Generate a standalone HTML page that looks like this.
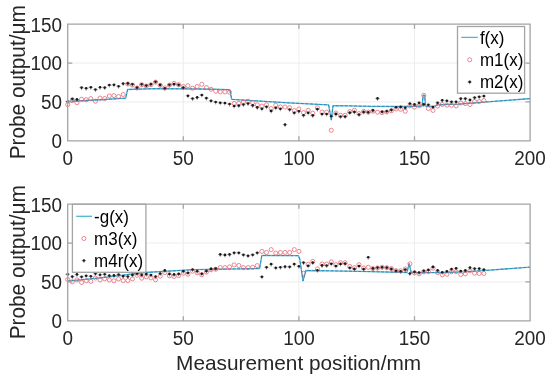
<!DOCTYPE html>
<html><head><meta charset="utf-8"><title>Probe output</title><style>html,body{margin:0;padding:0;background:#fff;width:550px;height:381px;overflow:hidden}svg{display:block;filter:blur(0.3px);font-family:"Liberation Sans",Arial,Helvetica,sans-serif}</style></head><body>
<svg width="550" height="381" viewBox="0 0 550 381">
<rect width="550" height="381" fill="#fff"/>
<path d="M183.3 24.2V140.8M298.9 24.2V140.8M414.5 24.2V140.8M67.7 101.93H530.1M67.7 63.07H530.1" stroke="#ebebeb" stroke-width="0.9" fill="none"/>
<path d="M67.5 101.5 L105 99.5 L125.7 98.1 L127.6 89.5 L156 88.6 L200 89 L229.8 89.6 L231.7 99.3 L245 100.2 L288 102.8 L328.6 104.9 L331.3 119.8 L333 105.7 L348 105.8 L370 106.3 L397 106.5 L414 106.3 L422.2 106 L423.1 95.6 L423.9 95.1 L424.7 95.6 L425.5 106.2 L434 106.4 L437.5 104.8 L458 104.2 L500 100.9 L525 99 L530 98.6" stroke="#4fb6d6" stroke-width="1.3" fill="none" stroke-linejoin="round"/>
<path d="M67.5 101.5 L105 99.5 L125.7 98.1 L127.6 89.5 L156 88.6 L200 89 L229.8 89.6 L231.7 99.3 L245 100.2 L288 102.8 L328.6 104.9 L331.3 119.8 L333 105.7 L348 105.8 L370 106.3 L397 106.5 L414 106.3 L422.2 106 L423.1 95.6 L423.9 95.1 L424.7 95.6 L425.5 106.2 L434 106.4 L437.5 104.8 L458 104.2 L500 100.9 L525 99 L530 98.6" stroke="#2a80b0" stroke-width="0.85" fill="none" stroke-dasharray="3 1.6"/>
<path d="M65.65 104.6a2.05 2.05 0 1 0 4.1 0a2.05 2.05 0 1 0 -4.1 0M70.27 100.6a2.05 2.05 0 1 0 4.1 0a2.05 2.05 0 1 0 -4.1 0M74.9 102.8a2.05 2.05 0 1 0 4.1 0a2.05 2.05 0 1 0 -4.1 0M79.52 99.2a2.05 2.05 0 1 0 4.1 0a2.05 2.05 0 1 0 -4.1 0M84.15 99.7a2.05 2.05 0 1 0 4.1 0a2.05 2.05 0 1 0 -4.1 0M88.77 98.6a2.05 2.05 0 1 0 4.1 0a2.05 2.05 0 1 0 -4.1 0M93.39 101.2a2.05 2.05 0 1 0 4.1 0a2.05 2.05 0 1 0 -4.1 0M98.02 98.1a2.05 2.05 0 1 0 4.1 0a2.05 2.05 0 1 0 -4.1 0M102.64 98.5a2.05 2.05 0 1 0 4.1 0a2.05 2.05 0 1 0 -4.1 0M107.27 96a2.05 2.05 0 1 0 4.1 0a2.05 2.05 0 1 0 -4.1 0M111.89 95.6a2.05 2.05 0 1 0 4.1 0a2.05 2.05 0 1 0 -4.1 0M116.51 96.5a2.05 2.05 0 1 0 4.1 0a2.05 2.05 0 1 0 -4.1 0M121.14 94.5a2.05 2.05 0 1 0 4.1 0a2.05 2.05 0 1 0 -4.1 0M125.76 84a2.05 2.05 0 1 0 4.1 0a2.05 2.05 0 1 0 -4.1 0M130.39 85.1a2.05 2.05 0 1 0 4.1 0a2.05 2.05 0 1 0 -4.1 0M135.01 88a2.05 2.05 0 1 0 4.1 0a2.05 2.05 0 1 0 -4.1 0M139.63 84.7a2.05 2.05 0 1 0 4.1 0a2.05 2.05 0 1 0 -4.1 0M144.26 86a2.05 2.05 0 1 0 4.1 0a2.05 2.05 0 1 0 -4.1 0M148.88 84.7a2.05 2.05 0 1 0 4.1 0a2.05 2.05 0 1 0 -4.1 0M153.51 82.1a2.05 2.05 0 1 0 4.1 0a2.05 2.05 0 1 0 -4.1 0M158.13 85.3a2.05 2.05 0 1 0 4.1 0a2.05 2.05 0 1 0 -4.1 0M162.75 88a2.05 2.05 0 1 0 4.1 0a2.05 2.05 0 1 0 -4.1 0M167.38 85.1a2.05 2.05 0 1 0 4.1 0a2.05 2.05 0 1 0 -4.1 0M172 83.4a2.05 2.05 0 1 0 4.1 0a2.05 2.05 0 1 0 -4.1 0M176.63 84.7a2.05 2.05 0 1 0 4.1 0a2.05 2.05 0 1 0 -4.1 0M181.25 86.6a2.05 2.05 0 1 0 4.1 0a2.05 2.05 0 1 0 -4.1 0M185.87 85.7a2.05 2.05 0 1 0 4.1 0a2.05 2.05 0 1 0 -4.1 0M190.5 88.2a2.05 2.05 0 1 0 4.1 0a2.05 2.05 0 1 0 -4.1 0M195.12 86.5a2.05 2.05 0 1 0 4.1 0a2.05 2.05 0 1 0 -4.1 0M199.75 84.3a2.05 2.05 0 1 0 4.1 0a2.05 2.05 0 1 0 -4.1 0M204.37 87.6a2.05 2.05 0 1 0 4.1 0a2.05 2.05 0 1 0 -4.1 0M208.99 89.3a2.05 2.05 0 1 0 4.1 0a2.05 2.05 0 1 0 -4.1 0M213.62 91.2a2.05 2.05 0 1 0 4.1 0a2.05 2.05 0 1 0 -4.1 0M218.24 91.9a2.05 2.05 0 1 0 4.1 0a2.05 2.05 0 1 0 -4.1 0M222.87 91.9a2.05 2.05 0 1 0 4.1 0a2.05 2.05 0 1 0 -4.1 0M227.49 92.3a2.05 2.05 0 1 0 4.1 0a2.05 2.05 0 1 0 -4.1 0M232.11 103.4a2.05 2.05 0 1 0 4.1 0a2.05 2.05 0 1 0 -4.1 0M236.74 103.3a2.05 2.05 0 1 0 4.1 0a2.05 2.05 0 1 0 -4.1 0M241.36 102.1a2.05 2.05 0 1 0 4.1 0a2.05 2.05 0 1 0 -4.1 0M245.99 101.2a2.05 2.05 0 1 0 4.1 0a2.05 2.05 0 1 0 -4.1 0M250.61 102.6a2.05 2.05 0 1 0 4.1 0a2.05 2.05 0 1 0 -4.1 0M255.23 104.8a2.05 2.05 0 1 0 4.1 0a2.05 2.05 0 1 0 -4.1 0M259.86 106.1a2.05 2.05 0 1 0 4.1 0a2.05 2.05 0 1 0 -4.1 0M264.48 104.8a2.05 2.05 0 1 0 4.1 0a2.05 2.05 0 1 0 -4.1 0M269.11 108.5a2.05 2.05 0 1 0 4.1 0a2.05 2.05 0 1 0 -4.1 0M273.73 105.2a2.05 2.05 0 1 0 4.1 0a2.05 2.05 0 1 0 -4.1 0M278.35 106.9a2.05 2.05 0 1 0 4.1 0a2.05 2.05 0 1 0 -4.1 0M282.98 107a2.05 2.05 0 1 0 4.1 0a2.05 2.05 0 1 0 -4.1 0M287.6 107.7a2.05 2.05 0 1 0 4.1 0a2.05 2.05 0 1 0 -4.1 0M292.23 110.6a2.05 2.05 0 1 0 4.1 0a2.05 2.05 0 1 0 -4.1 0M296.85 109a2.05 2.05 0 1 0 4.1 0a2.05 2.05 0 1 0 -4.1 0M301.47 112.6a2.05 2.05 0 1 0 4.1 0a2.05 2.05 0 1 0 -4.1 0M306.1 110.3a2.05 2.05 0 1 0 4.1 0a2.05 2.05 0 1 0 -4.1 0M310.72 113.2a2.05 2.05 0 1 0 4.1 0a2.05 2.05 0 1 0 -4.1 0M315.35 107.7a2.05 2.05 0 1 0 4.1 0a2.05 2.05 0 1 0 -4.1 0M319.97 112.1a2.05 2.05 0 1 0 4.1 0a2.05 2.05 0 1 0 -4.1 0M324.59 112.1a2.05 2.05 0 1 0 4.1 0a2.05 2.05 0 1 0 -4.1 0M329.22 130.3a2.05 2.05 0 1 0 4.1 0a2.05 2.05 0 1 0 -4.1 0M333.84 113a2.05 2.05 0 1 0 4.1 0a2.05 2.05 0 1 0 -4.1 0M338.47 115.3a2.05 2.05 0 1 0 4.1 0a2.05 2.05 0 1 0 -4.1 0M343.09 115.3a2.05 2.05 0 1 0 4.1 0a2.05 2.05 0 1 0 -4.1 0M347.71 111.6a2.05 2.05 0 1 0 4.1 0a2.05 2.05 0 1 0 -4.1 0M352.34 110.3a2.05 2.05 0 1 0 4.1 0a2.05 2.05 0 1 0 -4.1 0M356.96 113.6a2.05 2.05 0 1 0 4.1 0a2.05 2.05 0 1 0 -4.1 0M361.59 111.3a2.05 2.05 0 1 0 4.1 0a2.05 2.05 0 1 0 -4.1 0M366.21 112.1a2.05 2.05 0 1 0 4.1 0a2.05 2.05 0 1 0 -4.1 0M370.83 111.2a2.05 2.05 0 1 0 4.1 0a2.05 2.05 0 1 0 -4.1 0M375.46 112.2a2.05 2.05 0 1 0 4.1 0a2.05 2.05 0 1 0 -4.1 0M380.08 112.6a2.05 2.05 0 1 0 4.1 0a2.05 2.05 0 1 0 -4.1 0M384.71 111.9a2.05 2.05 0 1 0 4.1 0a2.05 2.05 0 1 0 -4.1 0M389.33 110.8a2.05 2.05 0 1 0 4.1 0a2.05 2.05 0 1 0 -4.1 0M393.95 109a2.05 2.05 0 1 0 4.1 0a2.05 2.05 0 1 0 -4.1 0M398.58 109.3a2.05 2.05 0 1 0 4.1 0a2.05 2.05 0 1 0 -4.1 0M403.2 111.2a2.05 2.05 0 1 0 4.1 0a2.05 2.05 0 1 0 -4.1 0M407.83 105.9a2.05 2.05 0 1 0 4.1 0a2.05 2.05 0 1 0 -4.1 0M412.45 107.1a2.05 2.05 0 1 0 4.1 0a2.05 2.05 0 1 0 -4.1 0M417.07 105.8a2.05 2.05 0 1 0 4.1 0a2.05 2.05 0 1 0 -4.1 0M421.7 95.3a2.05 2.05 0 1 0 4.1 0a2.05 2.05 0 1 0 -4.1 0M426.32 108.5a2.05 2.05 0 1 0 4.1 0a2.05 2.05 0 1 0 -4.1 0M430.95 110.4a2.05 2.05 0 1 0 4.1 0a2.05 2.05 0 1 0 -4.1 0M435.57 106.1a2.05 2.05 0 1 0 4.1 0a2.05 2.05 0 1 0 -4.1 0M440.19 104.5a2.05 2.05 0 1 0 4.1 0a2.05 2.05 0 1 0 -4.1 0M444.82 105.2a2.05 2.05 0 1 0 4.1 0a2.05 2.05 0 1 0 -4.1 0M449.44 105.3a2.05 2.05 0 1 0 4.1 0a2.05 2.05 0 1 0 -4.1 0M454.07 105.9a2.05 2.05 0 1 0 4.1 0a2.05 2.05 0 1 0 -4.1 0M458.69 103a2.05 2.05 0 1 0 4.1 0a2.05 2.05 0 1 0 -4.1 0M463.31 103.6a2.05 2.05 0 1 0 4.1 0a2.05 2.05 0 1 0 -4.1 0M467.94 104.5a2.05 2.05 0 1 0 4.1 0a2.05 2.05 0 1 0 -4.1 0M472.56 101.6a2.05 2.05 0 1 0 4.1 0a2.05 2.05 0 1 0 -4.1 0M477.19 101.6a2.05 2.05 0 1 0 4.1 0a2.05 2.05 0 1 0 -4.1 0M481.81 100.6a2.05 2.05 0 1 0 4.1 0a2.05 2.05 0 1 0 -4.1 0" stroke="#e8606e" stroke-width="0.75" fill="none"/>
<path d="M65.5 101.6H69.9M70.12 98.8H74.52M74.75 99.5H79.15M79.37 87.7H83.77M84 88.3H88.4M88.62 87.4H93.02M93.24 89.6H97.64M97.87 87.4H102.27M102.49 87.7H106.89M107.12 85.1H111.52M111.74 84.8H116.14M116.36 86.3H120.76M120.99 83.7H125.39M125.61 83.5H130.01M130.24 84.4H134.64M134.86 87.7H139.26M139.48 84.4H143.88M144.11 85.7H148.51M148.73 84.4H153.13M153.36 81.8H157.76M157.98 85H162.38M162.6 88.3H167M167.23 84.8H171.63M171.85 84.1H176.25M176.48 84.8H180.88M181.1 87.7H185.5M185.72 95.8H190.12M190.35 98.6H194.75M194.97 97.5H199.37M199.6 95.1H204M204.22 98.2H208.62M208.84 100.8H213.24M213.47 102.1H217.87M218.09 102.8H222.49M222.72 103.1H227.12M227.34 104.1H231.74M231.96 106.1H236.36M236.59 105.7H240.99M241.21 104.6H245.61M245.84 103.6H250.24M250.46 105.5H254.86M255.08 107.5H259.48M259.71 108.8H264.11M264.33 106.8H268.73M268.96 111H273.36M273.58 107.9H277.98M278.2 108.8H282.6M282.83 124.7H287.23M287.45 109.6H291.85M292.08 112.9H296.48M296.7 111.3H301.1M301.32 115.3H305.72M305.95 112.9H310.35M310.57 115.5H314.97M315.2 109.2H319.6M319.82 114.1H324.22M324.44 114.1H328.84M329.07 116.4H333.47M333.69 114H338.09M338.32 116.6H342.72M342.94 116.6H347.34M347.56 112.7H351.96M352.19 112H356.59M356.81 114.6H361.21M361.44 112H365.84M366.06 112.3H370.46M370.68 110.5H375.08M375.31 98.5H379.71M379.93 111.9H384.33M384.56 111.3H388.96M389.18 110H393.58M393.8 107.4H398.2M398.43 107H402.83M403.05 107.9H407.45M407.68 103.6H412.08M412.3 104.5H416.7M416.92 102.9H421.32M421.55 104.5H425.95M426.17 104.9H430.57M430.8 107.1H435.2M435.42 102.9H439.82M440.04 100.3H444.44M444.67 100.9H449.07M449.29 101.8H453.69M453.92 101.9H458.32M458.54 98.7H462.94M463.16 98.7H467.56M467.79 100H472.19M472.41 97.7H476.81M477.04 96.8H481.44M481.66 96.1H486.06" stroke="#707070" stroke-width="0.65" fill="none"/><path d="M67.7 101.5V104M72.32 98.7V101.2M76.95 99.4V101.9M81.57 87.6V90.1M86.2 88.2V90.7M90.82 87.3V89.8M95.44 89.5V92M100.07 87.3V89.8M104.69 87.6V90.1M109.32 85V87.5M113.94 84.7V87.2M118.56 86.2V88.7M123.19 83.6V86.1M127.81 83.4V85.9M132.44 84.3V86.8M137.06 87.6V90.1M141.68 84.3V86.8M146.31 85.6V88.1M150.93 84.3V86.8M155.56 81.7V84.2M160.18 84.9V87.4M164.8 88.2V90.7M169.43 84.7V87.2M174.05 84V86.5M178.68 84.7V87.2M183.3 87.6V90.1M187.92 95.7V98.2M192.55 98.5V101M197.17 97.4V99.9M201.8 95V97.5M206.42 98.1V100.6M211.04 100.7V103.2M215.67 102V104.5M220.29 102.7V105.2M224.92 103V105.5M229.54 104V106.5M234.16 106V108.5M238.79 105.6V108.1M243.41 104.5V107M248.04 103.5V106M252.66 105.4V107.9M257.28 107.4V109.9M261.91 108.7V111.2M266.53 106.7V109.2M271.16 110.9V113.4M275.78 107.8V110.3M280.4 108.7V111.2M285.03 124.6V127.1M289.65 109.5V112M294.28 112.8V115.3M298.9 111.2V113.7M303.52 115.2V117.7M308.15 112.8V115.3M312.77 115.4V117.9M317.4 109.1V111.6M322.02 114V116.5M326.64 114V116.5M331.27 116.3V118.8M335.89 113.9V116.4M340.52 116.5V119M345.14 116.5V119M349.76 112.6V115.1M354.39 111.9V114.4M359.01 114.5V117M363.64 111.9V114.4M368.26 112.2V114.7M372.88 110.4V112.9M377.51 98.4V100.9M382.13 111.8V114.3M386.76 111.2V113.7M391.38 109.9V112.4M396 107.3V109.8M400.63 106.9V109.4M405.25 107.8V110.3M409.88 103.5V106M414.5 104.4V106.9M419.12 102.8V105.3M423.75 104.4V106.9M428.37 104.8V107.3M433 107V109.5M437.62 102.8V105.3M442.24 100.2V102.7M446.87 100.8V103.3M451.49 101.7V104.2M456.12 101.8V104.3M460.74 98.6V101.1M465.36 98.6V101.1M469.99 99.9V102.4M474.61 97.6V100.1M479.24 96.7V99.2M483.86 96V98.5" stroke="#777" stroke-width="0.7" fill="none"/><path d="M66.4 101.5a1.3 1.3 0 1 0 2.6 0a1.3 1.3 0 1 0 -2.6 0M71.02 98.7a1.3 1.3 0 1 0 2.6 0a1.3 1.3 0 1 0 -2.6 0M75.65 99.4a1.3 1.3 0 1 0 2.6 0a1.3 1.3 0 1 0 -2.6 0M80.27 87.6a1.3 1.3 0 1 0 2.6 0a1.3 1.3 0 1 0 -2.6 0M84.9 88.2a1.3 1.3 0 1 0 2.6 0a1.3 1.3 0 1 0 -2.6 0M89.52 87.3a1.3 1.3 0 1 0 2.6 0a1.3 1.3 0 1 0 -2.6 0M94.14 89.5a1.3 1.3 0 1 0 2.6 0a1.3 1.3 0 1 0 -2.6 0M98.77 87.3a1.3 1.3 0 1 0 2.6 0a1.3 1.3 0 1 0 -2.6 0M103.39 87.6a1.3 1.3 0 1 0 2.6 0a1.3 1.3 0 1 0 -2.6 0M108.02 85a1.3 1.3 0 1 0 2.6 0a1.3 1.3 0 1 0 -2.6 0M112.64 84.7a1.3 1.3 0 1 0 2.6 0a1.3 1.3 0 1 0 -2.6 0M117.26 86.2a1.3 1.3 0 1 0 2.6 0a1.3 1.3 0 1 0 -2.6 0M121.89 83.6a1.3 1.3 0 1 0 2.6 0a1.3 1.3 0 1 0 -2.6 0M126.51 83.4a1.3 1.3 0 1 0 2.6 0a1.3 1.3 0 1 0 -2.6 0M131.14 84.3a1.3 1.3 0 1 0 2.6 0a1.3 1.3 0 1 0 -2.6 0M135.76 87.6a1.3 1.3 0 1 0 2.6 0a1.3 1.3 0 1 0 -2.6 0M140.38 84.3a1.3 1.3 0 1 0 2.6 0a1.3 1.3 0 1 0 -2.6 0M145.01 85.6a1.3 1.3 0 1 0 2.6 0a1.3 1.3 0 1 0 -2.6 0M149.63 84.3a1.3 1.3 0 1 0 2.6 0a1.3 1.3 0 1 0 -2.6 0M154.26 81.7a1.3 1.3 0 1 0 2.6 0a1.3 1.3 0 1 0 -2.6 0M158.88 84.9a1.3 1.3 0 1 0 2.6 0a1.3 1.3 0 1 0 -2.6 0M163.5 88.2a1.3 1.3 0 1 0 2.6 0a1.3 1.3 0 1 0 -2.6 0M168.13 84.7a1.3 1.3 0 1 0 2.6 0a1.3 1.3 0 1 0 -2.6 0M172.75 84a1.3 1.3 0 1 0 2.6 0a1.3 1.3 0 1 0 -2.6 0M177.38 84.7a1.3 1.3 0 1 0 2.6 0a1.3 1.3 0 1 0 -2.6 0M182 87.6a1.3 1.3 0 1 0 2.6 0a1.3 1.3 0 1 0 -2.6 0M186.62 95.7a1.3 1.3 0 1 0 2.6 0a1.3 1.3 0 1 0 -2.6 0M191.25 98.5a1.3 1.3 0 1 0 2.6 0a1.3 1.3 0 1 0 -2.6 0M195.87 97.4a1.3 1.3 0 1 0 2.6 0a1.3 1.3 0 1 0 -2.6 0M200.5 95a1.3 1.3 0 1 0 2.6 0a1.3 1.3 0 1 0 -2.6 0M205.12 98.1a1.3 1.3 0 1 0 2.6 0a1.3 1.3 0 1 0 -2.6 0M209.74 100.7a1.3 1.3 0 1 0 2.6 0a1.3 1.3 0 1 0 -2.6 0M214.37 102a1.3 1.3 0 1 0 2.6 0a1.3 1.3 0 1 0 -2.6 0M218.99 102.7a1.3 1.3 0 1 0 2.6 0a1.3 1.3 0 1 0 -2.6 0M223.62 103a1.3 1.3 0 1 0 2.6 0a1.3 1.3 0 1 0 -2.6 0M228.24 104a1.3 1.3 0 1 0 2.6 0a1.3 1.3 0 1 0 -2.6 0M232.86 106a1.3 1.3 0 1 0 2.6 0a1.3 1.3 0 1 0 -2.6 0M237.49 105.6a1.3 1.3 0 1 0 2.6 0a1.3 1.3 0 1 0 -2.6 0M242.11 104.5a1.3 1.3 0 1 0 2.6 0a1.3 1.3 0 1 0 -2.6 0M246.74 103.5a1.3 1.3 0 1 0 2.6 0a1.3 1.3 0 1 0 -2.6 0M251.36 105.4a1.3 1.3 0 1 0 2.6 0a1.3 1.3 0 1 0 -2.6 0M255.98 107.4a1.3 1.3 0 1 0 2.6 0a1.3 1.3 0 1 0 -2.6 0M260.61 108.7a1.3 1.3 0 1 0 2.6 0a1.3 1.3 0 1 0 -2.6 0M265.23 106.7a1.3 1.3 0 1 0 2.6 0a1.3 1.3 0 1 0 -2.6 0M269.86 110.9a1.3 1.3 0 1 0 2.6 0a1.3 1.3 0 1 0 -2.6 0M274.48 107.8a1.3 1.3 0 1 0 2.6 0a1.3 1.3 0 1 0 -2.6 0M279.1 108.7a1.3 1.3 0 1 0 2.6 0a1.3 1.3 0 1 0 -2.6 0M283.73 124.6a1.3 1.3 0 1 0 2.6 0a1.3 1.3 0 1 0 -2.6 0M288.35 109.5a1.3 1.3 0 1 0 2.6 0a1.3 1.3 0 1 0 -2.6 0M292.98 112.8a1.3 1.3 0 1 0 2.6 0a1.3 1.3 0 1 0 -2.6 0M297.6 111.2a1.3 1.3 0 1 0 2.6 0a1.3 1.3 0 1 0 -2.6 0M302.22 115.2a1.3 1.3 0 1 0 2.6 0a1.3 1.3 0 1 0 -2.6 0M306.85 112.8a1.3 1.3 0 1 0 2.6 0a1.3 1.3 0 1 0 -2.6 0M311.47 115.4a1.3 1.3 0 1 0 2.6 0a1.3 1.3 0 1 0 -2.6 0M316.1 109.1a1.3 1.3 0 1 0 2.6 0a1.3 1.3 0 1 0 -2.6 0M320.72 114a1.3 1.3 0 1 0 2.6 0a1.3 1.3 0 1 0 -2.6 0M325.34 114a1.3 1.3 0 1 0 2.6 0a1.3 1.3 0 1 0 -2.6 0M329.97 116.3a1.3 1.3 0 1 0 2.6 0a1.3 1.3 0 1 0 -2.6 0M334.59 113.9a1.3 1.3 0 1 0 2.6 0a1.3 1.3 0 1 0 -2.6 0M339.22 116.5a1.3 1.3 0 1 0 2.6 0a1.3 1.3 0 1 0 -2.6 0M343.84 116.5a1.3 1.3 0 1 0 2.6 0a1.3 1.3 0 1 0 -2.6 0M348.46 112.6a1.3 1.3 0 1 0 2.6 0a1.3 1.3 0 1 0 -2.6 0M353.09 111.9a1.3 1.3 0 1 0 2.6 0a1.3 1.3 0 1 0 -2.6 0M357.71 114.5a1.3 1.3 0 1 0 2.6 0a1.3 1.3 0 1 0 -2.6 0M362.34 111.9a1.3 1.3 0 1 0 2.6 0a1.3 1.3 0 1 0 -2.6 0M366.96 112.2a1.3 1.3 0 1 0 2.6 0a1.3 1.3 0 1 0 -2.6 0M371.58 110.4a1.3 1.3 0 1 0 2.6 0a1.3 1.3 0 1 0 -2.6 0M376.21 98.4a1.3 1.3 0 1 0 2.6 0a1.3 1.3 0 1 0 -2.6 0M380.83 111.8a1.3 1.3 0 1 0 2.6 0a1.3 1.3 0 1 0 -2.6 0M385.46 111.2a1.3 1.3 0 1 0 2.6 0a1.3 1.3 0 1 0 -2.6 0M390.08 109.9a1.3 1.3 0 1 0 2.6 0a1.3 1.3 0 1 0 -2.6 0M394.7 107.3a1.3 1.3 0 1 0 2.6 0a1.3 1.3 0 1 0 -2.6 0M399.33 106.9a1.3 1.3 0 1 0 2.6 0a1.3 1.3 0 1 0 -2.6 0M403.95 107.8a1.3 1.3 0 1 0 2.6 0a1.3 1.3 0 1 0 -2.6 0M408.58 103.5a1.3 1.3 0 1 0 2.6 0a1.3 1.3 0 1 0 -2.6 0M413.2 104.4a1.3 1.3 0 1 0 2.6 0a1.3 1.3 0 1 0 -2.6 0M417.82 102.8a1.3 1.3 0 1 0 2.6 0a1.3 1.3 0 1 0 -2.6 0M422.45 104.4a1.3 1.3 0 1 0 2.6 0a1.3 1.3 0 1 0 -2.6 0M427.07 104.8a1.3 1.3 0 1 0 2.6 0a1.3 1.3 0 1 0 -2.6 0M431.7 107a1.3 1.3 0 1 0 2.6 0a1.3 1.3 0 1 0 -2.6 0M436.32 102.8a1.3 1.3 0 1 0 2.6 0a1.3 1.3 0 1 0 -2.6 0M440.94 100.2a1.3 1.3 0 1 0 2.6 0a1.3 1.3 0 1 0 -2.6 0M445.57 100.8a1.3 1.3 0 1 0 2.6 0a1.3 1.3 0 1 0 -2.6 0M450.19 101.7a1.3 1.3 0 1 0 2.6 0a1.3 1.3 0 1 0 -2.6 0M454.82 101.8a1.3 1.3 0 1 0 2.6 0a1.3 1.3 0 1 0 -2.6 0M459.44 98.6a1.3 1.3 0 1 0 2.6 0a1.3 1.3 0 1 0 -2.6 0M464.06 98.6a1.3 1.3 0 1 0 2.6 0a1.3 1.3 0 1 0 -2.6 0M468.69 99.9a1.3 1.3 0 1 0 2.6 0a1.3 1.3 0 1 0 -2.6 0M473.31 97.6a1.3 1.3 0 1 0 2.6 0a1.3 1.3 0 1 0 -2.6 0M477.94 96.7a1.3 1.3 0 1 0 2.6 0a1.3 1.3 0 1 0 -2.6 0M482.56 96a1.3 1.3 0 1 0 2.6 0a1.3 1.3 0 1 0 -2.6 0" fill="#1a1a1a"/>
<path d="M67.7 24.2H530.1V140.8H67.7ZM183.3 140.8v-4.6M183.3 24.2v4.6M298.9 140.8v-4.6M298.9 24.2v4.6M414.5 140.8v-4.6M414.5 24.2v4.6M67.7 101.93h4.6M530.1 101.93h-4.6M67.7 63.07h4.6M530.1 63.07h-4.6" stroke="#a4a4a4" stroke-width="1.3" fill="none"/>
<g font-size="18.9" fill="#262626">
<text transform="translate(61.9 148.1) scale(1 1.045)" text-anchor="end">0</text>
<text transform="translate(61.9 109.23) scale(1 1.045)" text-anchor="end">50</text>
<text transform="translate(61.9 70.37) scale(1 1.045)" text-anchor="end">100</text>
<text transform="translate(61.9 31.5) scale(1 1.045)" text-anchor="end">150</text>
<text transform="translate(67.7 165) scale(1 1.045)" text-anchor="middle">0</text>
<text transform="translate(183.3 165) scale(1 1.045)" text-anchor="middle">50</text>
<text transform="translate(298.9 165) scale(1 1.045)" text-anchor="middle">100</text>
<text transform="translate(414.5 165) scale(1 1.045)" text-anchor="middle">150</text>
<text transform="translate(530.1 165) scale(1 1.045)" text-anchor="middle">200</text>
</g>
<text transform="translate(24.6 82.3) rotate(-90) scale(1 1.05)" text-anchor="middle" font-size="20.8" fill="#262626">Probe output/μm</text>
<path d="M183.3 204.2V320.8M298.9 204.2V320.8M414.5 204.2V320.8M67.7 281.93H530.1M67.7 243.07H530.1" stroke="#ebebeb" stroke-width="0.9" fill="none"/>
<path d="M67.5 281.1 L105 277.3 L145 272.5 L185 270.2 L194 269.6 L259.6 268.5 L261.8 255.5 L298.4 255.7 L299.7 259 L303 280.9 L305.9 270.5 L330 270.8 L370 271.6 L407 272.5 L409.1 263.6 L411.2 272.5 L440 272.6 L464 271.8 L490 270.1 L530 267.1" stroke="#4fb6d6" stroke-width="1.3" fill="none" stroke-linejoin="round"/>
<path d="M67.5 281.1 L105 277.3 L145 272.5 L185 270.2 L194 269.6 L259.6 268.5 L261.8 255.5 L298.4 255.7 L299.7 259 L303 280.9 L305.9 270.5 L330 270.8 L370 271.6 L407 272.5 L409.1 263.6 L411.2 272.5 L440 272.6 L464 271.8 L490 270.1 L530 267.1" stroke="#2a80b0" stroke-width="0.85" fill="none" stroke-dasharray="3 1.6"/>
<path d="M65.65 279.6a2.05 2.05 0 1 0 4.1 0a2.05 2.05 0 1 0 -4.1 0M70.27 281.8a2.05 2.05 0 1 0 4.1 0a2.05 2.05 0 1 0 -4.1 0M74.9 279.9a2.05 2.05 0 1 0 4.1 0a2.05 2.05 0 1 0 -4.1 0M79.52 282.4a2.05 2.05 0 1 0 4.1 0a2.05 2.05 0 1 0 -4.1 0M84.15 280.9a2.05 2.05 0 1 0 4.1 0a2.05 2.05 0 1 0 -4.1 0M88.77 281.4a2.05 2.05 0 1 0 4.1 0a2.05 2.05 0 1 0 -4.1 0M93.39 278a2.05 2.05 0 1 0 4.1 0a2.05 2.05 0 1 0 -4.1 0M98.02 279.9a2.05 2.05 0 1 0 4.1 0a2.05 2.05 0 1 0 -4.1 0M102.64 278.7a2.05 2.05 0 1 0 4.1 0a2.05 2.05 0 1 0 -4.1 0M107.27 280a2.05 2.05 0 1 0 4.1 0a2.05 2.05 0 1 0 -4.1 0M111.89 280.8a2.05 2.05 0 1 0 4.1 0a2.05 2.05 0 1 0 -4.1 0M116.51 278.9a2.05 2.05 0 1 0 4.1 0a2.05 2.05 0 1 0 -4.1 0M121.14 280.6a2.05 2.05 0 1 0 4.1 0a2.05 2.05 0 1 0 -4.1 0M125.76 280.6a2.05 2.05 0 1 0 4.1 0a2.05 2.05 0 1 0 -4.1 0M130.39 278.9a2.05 2.05 0 1 0 4.1 0a2.05 2.05 0 1 0 -4.1 0M135.01 275.3a2.05 2.05 0 1 0 4.1 0a2.05 2.05 0 1 0 -4.1 0M139.63 278.2a2.05 2.05 0 1 0 4.1 0a2.05 2.05 0 1 0 -4.1 0M144.26 276.9a2.05 2.05 0 1 0 4.1 0a2.05 2.05 0 1 0 -4.1 0M148.88 277.9a2.05 2.05 0 1 0 4.1 0a2.05 2.05 0 1 0 -4.1 0M153.51 279.8a2.05 2.05 0 1 0 4.1 0a2.05 2.05 0 1 0 -4.1 0M158.13 276.1a2.05 2.05 0 1 0 4.1 0a2.05 2.05 0 1 0 -4.1 0M162.75 272.6a2.05 2.05 0 1 0 4.1 0a2.05 2.05 0 1 0 -4.1 0M167.38 275.8a2.05 2.05 0 1 0 4.1 0a2.05 2.05 0 1 0 -4.1 0M172 276.5a2.05 2.05 0 1 0 4.1 0a2.05 2.05 0 1 0 -4.1 0M176.63 275.6a2.05 2.05 0 1 0 4.1 0a2.05 2.05 0 1 0 -4.1 0M181.25 273.2a2.05 2.05 0 1 0 4.1 0a2.05 2.05 0 1 0 -4.1 0M185.87 274.3a2.05 2.05 0 1 0 4.1 0a2.05 2.05 0 1 0 -4.1 0M190.5 271.2a2.05 2.05 0 1 0 4.1 0a2.05 2.05 0 1 0 -4.1 0M195.12 272.8a2.05 2.05 0 1 0 4.1 0a2.05 2.05 0 1 0 -4.1 0M199.75 274.8a2.05 2.05 0 1 0 4.1 0a2.05 2.05 0 1 0 -4.1 0M204.37 272.1a2.05 2.05 0 1 0 4.1 0a2.05 2.05 0 1 0 -4.1 0M208.99 269.8a2.05 2.05 0 1 0 4.1 0a2.05 2.05 0 1 0 -4.1 0M213.62 269.3a2.05 2.05 0 1 0 4.1 0a2.05 2.05 0 1 0 -4.1 0M218.24 267.6a2.05 2.05 0 1 0 4.1 0a2.05 2.05 0 1 0 -4.1 0M222.87 267.6a2.05 2.05 0 1 0 4.1 0a2.05 2.05 0 1 0 -4.1 0M227.49 266.9a2.05 2.05 0 1 0 4.1 0a2.05 2.05 0 1 0 -4.1 0M232.11 264.9a2.05 2.05 0 1 0 4.1 0a2.05 2.05 0 1 0 -4.1 0M236.74 265.5a2.05 2.05 0 1 0 4.1 0a2.05 2.05 0 1 0 -4.1 0M241.36 267.6a2.05 2.05 0 1 0 4.1 0a2.05 2.05 0 1 0 -4.1 0M245.99 267.6a2.05 2.05 0 1 0 4.1 0a2.05 2.05 0 1 0 -4.1 0M250.61 267.2a2.05 2.05 0 1 0 4.1 0a2.05 2.05 0 1 0 -4.1 0M255.23 265.6a2.05 2.05 0 1 0 4.1 0a2.05 2.05 0 1 0 -4.1 0M259.86 251.4a2.05 2.05 0 1 0 4.1 0a2.05 2.05 0 1 0 -4.1 0M264.48 252.5a2.05 2.05 0 1 0 4.1 0a2.05 2.05 0 1 0 -4.1 0M269.11 249.6a2.05 2.05 0 1 0 4.1 0a2.05 2.05 0 1 0 -4.1 0M273.73 253.1a2.05 2.05 0 1 0 4.1 0a2.05 2.05 0 1 0 -4.1 0M278.35 252.5a2.05 2.05 0 1 0 4.1 0a2.05 2.05 0 1 0 -4.1 0M282.98 252.4a2.05 2.05 0 1 0 4.1 0a2.05 2.05 0 1 0 -4.1 0M287.6 252.5a2.05 2.05 0 1 0 4.1 0a2.05 2.05 0 1 0 -4.1 0M292.23 249.6a2.05 2.05 0 1 0 4.1 0a2.05 2.05 0 1 0 -4.1 0M296.85 251.4a2.05 2.05 0 1 0 4.1 0a2.05 2.05 0 1 0 -4.1 0M301.47 273.2a2.05 2.05 0 1 0 4.1 0a2.05 2.05 0 1 0 -4.1 0M306.1 264.3a2.05 2.05 0 1 0 4.1 0a2.05 2.05 0 1 0 -4.1 0M310.72 261.4a2.05 2.05 0 1 0 4.1 0a2.05 2.05 0 1 0 -4.1 0M315.35 268.9a2.05 2.05 0 1 0 4.1 0a2.05 2.05 0 1 0 -4.1 0M319.97 264a2.05 2.05 0 1 0 4.1 0a2.05 2.05 0 1 0 -4.1 0M324.59 264.1a2.05 2.05 0 1 0 4.1 0a2.05 2.05 0 1 0 -4.1 0M329.22 261.9a2.05 2.05 0 1 0 4.1 0a2.05 2.05 0 1 0 -4.1 0M333.84 264.7a2.05 2.05 0 1 0 4.1 0a2.05 2.05 0 1 0 -4.1 0M338.47 262.7a2.05 2.05 0 1 0 4.1 0a2.05 2.05 0 1 0 -4.1 0M343.09 262.7a2.05 2.05 0 1 0 4.1 0a2.05 2.05 0 1 0 -4.1 0M347.71 266.4a2.05 2.05 0 1 0 4.1 0a2.05 2.05 0 1 0 -4.1 0M352.34 267.7a2.05 2.05 0 1 0 4.1 0a2.05 2.05 0 1 0 -4.1 0M356.96 264.7a2.05 2.05 0 1 0 4.1 0a2.05 2.05 0 1 0 -4.1 0M361.59 268a2.05 2.05 0 1 0 4.1 0a2.05 2.05 0 1 0 -4.1 0M366.21 267.3a2.05 2.05 0 1 0 4.1 0a2.05 2.05 0 1 0 -4.1 0M370.83 268.6a2.05 2.05 0 1 0 4.1 0a2.05 2.05 0 1 0 -4.1 0M375.46 268a2.05 2.05 0 1 0 4.1 0a2.05 2.05 0 1 0 -4.1 0M380.08 267.3a2.05 2.05 0 1 0 4.1 0a2.05 2.05 0 1 0 -4.1 0M384.71 267.7a2.05 2.05 0 1 0 4.1 0a2.05 2.05 0 1 0 -4.1 0M389.33 268.6a2.05 2.05 0 1 0 4.1 0a2.05 2.05 0 1 0 -4.1 0M393.95 270.6a2.05 2.05 0 1 0 4.1 0a2.05 2.05 0 1 0 -4.1 0M398.58 270.8a2.05 2.05 0 1 0 4.1 0a2.05 2.05 0 1 0 -4.1 0M403.2 269a2.05 2.05 0 1 0 4.1 0a2.05 2.05 0 1 0 -4.1 0M407.83 263.8a2.05 2.05 0 1 0 4.1 0a2.05 2.05 0 1 0 -4.1 0M412.45 272.9a2.05 2.05 0 1 0 4.1 0a2.05 2.05 0 1 0 -4.1 0M417.07 273.8a2.05 2.05 0 1 0 4.1 0a2.05 2.05 0 1 0 -4.1 0M421.7 271.9a2.05 2.05 0 1 0 4.1 0a2.05 2.05 0 1 0 -4.1 0M426.32 271.6a2.05 2.05 0 1 0 4.1 0a2.05 2.05 0 1 0 -4.1 0M430.95 268.2a2.05 2.05 0 1 0 4.1 0a2.05 2.05 0 1 0 -4.1 0M435.57 272.6a2.05 2.05 0 1 0 4.1 0a2.05 2.05 0 1 0 -4.1 0M440.19 274.8a2.05 2.05 0 1 0 4.1 0a2.05 2.05 0 1 0 -4.1 0M444.82 274.3a2.05 2.05 0 1 0 4.1 0a2.05 2.05 0 1 0 -4.1 0M449.44 271.8a2.05 2.05 0 1 0 4.1 0a2.05 2.05 0 1 0 -4.1 0M454.07 271.6a2.05 2.05 0 1 0 4.1 0a2.05 2.05 0 1 0 -4.1 0M458.69 274.5a2.05 2.05 0 1 0 4.1 0a2.05 2.05 0 1 0 -4.1 0M463.31 273.9a2.05 2.05 0 1 0 4.1 0a2.05 2.05 0 1 0 -4.1 0M467.94 270.8a2.05 2.05 0 1 0 4.1 0a2.05 2.05 0 1 0 -4.1 0M472.56 273.2a2.05 2.05 0 1 0 4.1 0a2.05 2.05 0 1 0 -4.1 0M477.19 273.5a2.05 2.05 0 1 0 4.1 0a2.05 2.05 0 1 0 -4.1 0M481.81 273.5a2.05 2.05 0 1 0 4.1 0a2.05 2.05 0 1 0 -4.1 0" stroke="#e8606e" stroke-width="0.75" fill="none"/>
<path d="M65.5 274.3H69.9M70.12 276.7H74.52M74.75 274.5H79.15M79.37 276.9H83.77M84 275.8H88.4M88.62 276.3H93.02M93.24 273.7H97.64M97.87 274.9H102.27M102.49 274.3H106.89M107.12 275.7H111.52M111.74 275.5H116.14M116.36 274.6H120.76M120.99 276.3H125.39M125.61 276.6H130.01M130.24 275H134.64M134.86 273.7H139.26M139.48 275H143.88M144.11 274.2H148.51M148.73 275.1H153.13M153.36 276.7H157.76M157.98 273.6H162.38M162.6 270.5H167M167.23 274H171.63M171.85 274.5H176.25M176.48 274H180.88M181.1 271.3H185.5M185.72 272.9H190.12M190.35 269.6H194.75M194.97 271.4H199.37M199.6 273.8H204M204.22 271.2H208.62M208.84 269H213.24M213.47 268.6H217.87M218.09 254.5H222.49M222.72 255H227.12M227.34 254.5H231.74M231.96 252.8H236.36M236.59 252.8H240.99M241.21 254.8H245.61M245.84 255.8H250.24M250.46 254.8H254.86M255.08 252.8H259.48M259.71 276.8H264.11M264.33 267.3H268.73M268.96 264.2H273.36M273.58 267.9H277.98M278.2 267.3H282.6M282.83 266.7H287.23M287.45 266.9H291.85M292.08 264.2H296.48M296.7 266.3H301.1M301.32 262.7H305.72M305.95 265.9H310.35M310.57 262.7H314.97M315.2 270.3H319.6M319.82 265.5H324.22M324.44 265.6H328.84M329.07 263.8H333.47M333.69 266.1H338.09M338.32 264H342.72M342.94 263.7H347.34M347.56 267.9H351.96M352.19 269H356.59M356.81 266.1H361.21M361.44 269.2H365.84M366.06 257.4H370.46M370.68 268.5H375.08M375.31 267.7H379.71M379.93 267.4H384.33M384.56 267.7H388.96M389.18 269H393.58M393.8 270.9H398.2M398.43 271.3H402.83M403.05 269.6H407.45M407.68 273.6H412.08M412.3 271.9H416.7M416.92 272.6H421.32M421.55 270.9H425.95M426.17 270H430.57M430.8 267H435.2M435.42 270.5H439.82M440.04 272.3H444.44M444.67 271.3H449.07M449.29 269.2H453.69M453.92 268.3H458.32M458.54 271.1H462.94M463.16 270.5H467.56M467.79 267.7H472.19M472.41 268.7H476.81M477.04 268.7H481.44M481.66 269.6H486.06" stroke="#707070" stroke-width="0.65" fill="none"/><path d="M67.7 274.2V276.7M72.32 276.6V279.1M76.95 274.4V276.9M81.57 276.8V279.3M86.2 275.7V278.2M90.82 276.2V278.7M95.44 273.6V276.1M100.07 274.8V277.3M104.69 274.2V276.7M109.32 275.6V278.1M113.94 275.4V277.9M118.56 274.5V277M123.19 276.2V278.7M127.81 276.5V279M132.44 274.9V277.4M137.06 273.6V276.1M141.68 274.9V277.4M146.31 274.1V276.6M150.93 275V277.5M155.56 276.6V279.1M160.18 273.5V276M164.8 270.4V272.9M169.43 273.9V276.4M174.05 274.4V276.9M178.68 273.9V276.4M183.3 271.2V273.7M187.92 272.8V275.3M192.55 269.5V272M197.17 271.3V273.8M201.8 273.7V276.2M206.42 271.1V273.6M211.04 268.9V271.4M215.67 268.5V271M220.29 254.4V256.9M224.92 254.9V257.4M229.54 254.4V256.9M234.16 252.7V255.2M238.79 252.7V255.2M243.41 254.7V257.2M248.04 255.7V258.2M252.66 254.7V257.2M257.28 252.7V255.2M261.91 276.7V279.2M266.53 267.2V269.7M271.16 264.1V266.6M275.78 267.8V270.3M280.4 267.2V269.7M285.03 266.6V269.1M289.65 266.8V269.3M294.28 264.1V266.6M298.9 266.2V268.7M303.52 262.6V265.1M308.15 265.8V268.3M312.77 262.6V265.1M317.4 270.2V272.7M322.02 265.4V267.9M326.64 265.5V268M331.27 263.7V266.2M335.89 266V268.5M340.52 263.9V266.4M345.14 263.6V266.1M349.76 267.8V270.3M354.39 268.9V271.4M359.01 266V268.5M363.64 269.1V271.6M368.26 257.3V259.8M372.88 268.4V270.9M377.51 267.6V270.1M382.13 267.3V269.8M386.76 267.6V270.1M391.38 268.9V271.4M396 270.8V273.3M400.63 271.2V273.7M405.25 269.5V272M409.88 273.5V276M414.5 271.8V274.3M419.12 272.5V275M423.75 270.8V273.3M428.37 269.9V272.4M433 266.9V269.4M437.62 270.4V272.9M442.24 272.2V274.7M446.87 271.2V273.7M451.49 269.1V271.6M456.12 268.2V270.7M460.74 271V273.5M465.36 270.4V272.9M469.99 267.6V270.1M474.61 268.6V271.1M479.24 268.6V271.1M483.86 269.5V272" stroke="#777" stroke-width="0.7" fill="none"/><path d="M66.4 274.2a1.3 1.3 0 1 0 2.6 0a1.3 1.3 0 1 0 -2.6 0M71.02 276.6a1.3 1.3 0 1 0 2.6 0a1.3 1.3 0 1 0 -2.6 0M75.65 274.4a1.3 1.3 0 1 0 2.6 0a1.3 1.3 0 1 0 -2.6 0M80.27 276.8a1.3 1.3 0 1 0 2.6 0a1.3 1.3 0 1 0 -2.6 0M84.9 275.7a1.3 1.3 0 1 0 2.6 0a1.3 1.3 0 1 0 -2.6 0M89.52 276.2a1.3 1.3 0 1 0 2.6 0a1.3 1.3 0 1 0 -2.6 0M94.14 273.6a1.3 1.3 0 1 0 2.6 0a1.3 1.3 0 1 0 -2.6 0M98.77 274.8a1.3 1.3 0 1 0 2.6 0a1.3 1.3 0 1 0 -2.6 0M103.39 274.2a1.3 1.3 0 1 0 2.6 0a1.3 1.3 0 1 0 -2.6 0M108.02 275.6a1.3 1.3 0 1 0 2.6 0a1.3 1.3 0 1 0 -2.6 0M112.64 275.4a1.3 1.3 0 1 0 2.6 0a1.3 1.3 0 1 0 -2.6 0M117.26 274.5a1.3 1.3 0 1 0 2.6 0a1.3 1.3 0 1 0 -2.6 0M121.89 276.2a1.3 1.3 0 1 0 2.6 0a1.3 1.3 0 1 0 -2.6 0M126.51 276.5a1.3 1.3 0 1 0 2.6 0a1.3 1.3 0 1 0 -2.6 0M131.14 274.9a1.3 1.3 0 1 0 2.6 0a1.3 1.3 0 1 0 -2.6 0M135.76 273.6a1.3 1.3 0 1 0 2.6 0a1.3 1.3 0 1 0 -2.6 0M140.38 274.9a1.3 1.3 0 1 0 2.6 0a1.3 1.3 0 1 0 -2.6 0M145.01 274.1a1.3 1.3 0 1 0 2.6 0a1.3 1.3 0 1 0 -2.6 0M149.63 275a1.3 1.3 0 1 0 2.6 0a1.3 1.3 0 1 0 -2.6 0M154.26 276.6a1.3 1.3 0 1 0 2.6 0a1.3 1.3 0 1 0 -2.6 0M158.88 273.5a1.3 1.3 0 1 0 2.6 0a1.3 1.3 0 1 0 -2.6 0M163.5 270.4a1.3 1.3 0 1 0 2.6 0a1.3 1.3 0 1 0 -2.6 0M168.13 273.9a1.3 1.3 0 1 0 2.6 0a1.3 1.3 0 1 0 -2.6 0M172.75 274.4a1.3 1.3 0 1 0 2.6 0a1.3 1.3 0 1 0 -2.6 0M177.38 273.9a1.3 1.3 0 1 0 2.6 0a1.3 1.3 0 1 0 -2.6 0M182 271.2a1.3 1.3 0 1 0 2.6 0a1.3 1.3 0 1 0 -2.6 0M186.62 272.8a1.3 1.3 0 1 0 2.6 0a1.3 1.3 0 1 0 -2.6 0M191.25 269.5a1.3 1.3 0 1 0 2.6 0a1.3 1.3 0 1 0 -2.6 0M195.87 271.3a1.3 1.3 0 1 0 2.6 0a1.3 1.3 0 1 0 -2.6 0M200.5 273.7a1.3 1.3 0 1 0 2.6 0a1.3 1.3 0 1 0 -2.6 0M205.12 271.1a1.3 1.3 0 1 0 2.6 0a1.3 1.3 0 1 0 -2.6 0M209.74 268.9a1.3 1.3 0 1 0 2.6 0a1.3 1.3 0 1 0 -2.6 0M214.37 268.5a1.3 1.3 0 1 0 2.6 0a1.3 1.3 0 1 0 -2.6 0M218.99 254.4a1.3 1.3 0 1 0 2.6 0a1.3 1.3 0 1 0 -2.6 0M223.62 254.9a1.3 1.3 0 1 0 2.6 0a1.3 1.3 0 1 0 -2.6 0M228.24 254.4a1.3 1.3 0 1 0 2.6 0a1.3 1.3 0 1 0 -2.6 0M232.86 252.7a1.3 1.3 0 1 0 2.6 0a1.3 1.3 0 1 0 -2.6 0M237.49 252.7a1.3 1.3 0 1 0 2.6 0a1.3 1.3 0 1 0 -2.6 0M242.11 254.7a1.3 1.3 0 1 0 2.6 0a1.3 1.3 0 1 0 -2.6 0M246.74 255.7a1.3 1.3 0 1 0 2.6 0a1.3 1.3 0 1 0 -2.6 0M251.36 254.7a1.3 1.3 0 1 0 2.6 0a1.3 1.3 0 1 0 -2.6 0M255.98 252.7a1.3 1.3 0 1 0 2.6 0a1.3 1.3 0 1 0 -2.6 0M260.61 276.7a1.3 1.3 0 1 0 2.6 0a1.3 1.3 0 1 0 -2.6 0M265.23 267.2a1.3 1.3 0 1 0 2.6 0a1.3 1.3 0 1 0 -2.6 0M269.86 264.1a1.3 1.3 0 1 0 2.6 0a1.3 1.3 0 1 0 -2.6 0M274.48 267.8a1.3 1.3 0 1 0 2.6 0a1.3 1.3 0 1 0 -2.6 0M279.1 267.2a1.3 1.3 0 1 0 2.6 0a1.3 1.3 0 1 0 -2.6 0M283.73 266.6a1.3 1.3 0 1 0 2.6 0a1.3 1.3 0 1 0 -2.6 0M288.35 266.8a1.3 1.3 0 1 0 2.6 0a1.3 1.3 0 1 0 -2.6 0M292.98 264.1a1.3 1.3 0 1 0 2.6 0a1.3 1.3 0 1 0 -2.6 0M297.6 266.2a1.3 1.3 0 1 0 2.6 0a1.3 1.3 0 1 0 -2.6 0M302.22 262.6a1.3 1.3 0 1 0 2.6 0a1.3 1.3 0 1 0 -2.6 0M306.85 265.8a1.3 1.3 0 1 0 2.6 0a1.3 1.3 0 1 0 -2.6 0M311.47 262.6a1.3 1.3 0 1 0 2.6 0a1.3 1.3 0 1 0 -2.6 0M316.1 270.2a1.3 1.3 0 1 0 2.6 0a1.3 1.3 0 1 0 -2.6 0M320.72 265.4a1.3 1.3 0 1 0 2.6 0a1.3 1.3 0 1 0 -2.6 0M325.34 265.5a1.3 1.3 0 1 0 2.6 0a1.3 1.3 0 1 0 -2.6 0M329.97 263.7a1.3 1.3 0 1 0 2.6 0a1.3 1.3 0 1 0 -2.6 0M334.59 266a1.3 1.3 0 1 0 2.6 0a1.3 1.3 0 1 0 -2.6 0M339.22 263.9a1.3 1.3 0 1 0 2.6 0a1.3 1.3 0 1 0 -2.6 0M343.84 263.6a1.3 1.3 0 1 0 2.6 0a1.3 1.3 0 1 0 -2.6 0M348.46 267.8a1.3 1.3 0 1 0 2.6 0a1.3 1.3 0 1 0 -2.6 0M353.09 268.9a1.3 1.3 0 1 0 2.6 0a1.3 1.3 0 1 0 -2.6 0M357.71 266a1.3 1.3 0 1 0 2.6 0a1.3 1.3 0 1 0 -2.6 0M362.34 269.1a1.3 1.3 0 1 0 2.6 0a1.3 1.3 0 1 0 -2.6 0M366.96 257.3a1.3 1.3 0 1 0 2.6 0a1.3 1.3 0 1 0 -2.6 0M371.58 268.4a1.3 1.3 0 1 0 2.6 0a1.3 1.3 0 1 0 -2.6 0M376.21 267.6a1.3 1.3 0 1 0 2.6 0a1.3 1.3 0 1 0 -2.6 0M380.83 267.3a1.3 1.3 0 1 0 2.6 0a1.3 1.3 0 1 0 -2.6 0M385.46 267.6a1.3 1.3 0 1 0 2.6 0a1.3 1.3 0 1 0 -2.6 0M390.08 268.9a1.3 1.3 0 1 0 2.6 0a1.3 1.3 0 1 0 -2.6 0M394.7 270.8a1.3 1.3 0 1 0 2.6 0a1.3 1.3 0 1 0 -2.6 0M399.33 271.2a1.3 1.3 0 1 0 2.6 0a1.3 1.3 0 1 0 -2.6 0M403.95 269.5a1.3 1.3 0 1 0 2.6 0a1.3 1.3 0 1 0 -2.6 0M408.58 273.5a1.3 1.3 0 1 0 2.6 0a1.3 1.3 0 1 0 -2.6 0M413.2 271.8a1.3 1.3 0 1 0 2.6 0a1.3 1.3 0 1 0 -2.6 0M417.82 272.5a1.3 1.3 0 1 0 2.6 0a1.3 1.3 0 1 0 -2.6 0M422.45 270.8a1.3 1.3 0 1 0 2.6 0a1.3 1.3 0 1 0 -2.6 0M427.07 269.9a1.3 1.3 0 1 0 2.6 0a1.3 1.3 0 1 0 -2.6 0M431.7 266.9a1.3 1.3 0 1 0 2.6 0a1.3 1.3 0 1 0 -2.6 0M436.32 270.4a1.3 1.3 0 1 0 2.6 0a1.3 1.3 0 1 0 -2.6 0M440.94 272.2a1.3 1.3 0 1 0 2.6 0a1.3 1.3 0 1 0 -2.6 0M445.57 271.2a1.3 1.3 0 1 0 2.6 0a1.3 1.3 0 1 0 -2.6 0M450.19 269.1a1.3 1.3 0 1 0 2.6 0a1.3 1.3 0 1 0 -2.6 0M454.82 268.2a1.3 1.3 0 1 0 2.6 0a1.3 1.3 0 1 0 -2.6 0M459.44 271a1.3 1.3 0 1 0 2.6 0a1.3 1.3 0 1 0 -2.6 0M464.06 270.4a1.3 1.3 0 1 0 2.6 0a1.3 1.3 0 1 0 -2.6 0M468.69 267.6a1.3 1.3 0 1 0 2.6 0a1.3 1.3 0 1 0 -2.6 0M473.31 268.6a1.3 1.3 0 1 0 2.6 0a1.3 1.3 0 1 0 -2.6 0M477.94 268.6a1.3 1.3 0 1 0 2.6 0a1.3 1.3 0 1 0 -2.6 0M482.56 269.5a1.3 1.3 0 1 0 2.6 0a1.3 1.3 0 1 0 -2.6 0" fill="#1a1a1a"/>
<path d="M67.7 204.2H530.1V320.8H67.7ZM183.3 320.8v-4.6M183.3 204.2v4.6M298.9 320.8v-4.6M298.9 204.2v4.6M414.5 320.8v-4.6M414.5 204.2v4.6M67.7 281.93h4.6M530.1 281.93h-4.6M67.7 243.07h4.6M530.1 243.07h-4.6" stroke="#a4a4a4" stroke-width="1.3" fill="none"/>
<g font-size="18.9" fill="#262626">
<text transform="translate(61.9 328.1) scale(1 1.045)" text-anchor="end">0</text>
<text transform="translate(61.9 289.23) scale(1 1.045)" text-anchor="end">50</text>
<text transform="translate(61.9 250.37) scale(1 1.045)" text-anchor="end">100</text>
<text transform="translate(61.9 211.5) scale(1 1.045)" text-anchor="end">150</text>
<text transform="translate(67.7 345) scale(1 1.045)" text-anchor="middle">0</text>
<text transform="translate(183.3 345) scale(1 1.045)" text-anchor="middle">50</text>
<text transform="translate(298.9 345) scale(1 1.045)" text-anchor="middle">100</text>
<text transform="translate(414.5 345) scale(1 1.045)" text-anchor="middle">150</text>
<text transform="translate(530.1 345) scale(1 1.045)" text-anchor="middle">200</text>
</g>
<text transform="translate(24.6 262.3) rotate(-90) scale(1 1.05)" text-anchor="middle" font-size="20.8" fill="#262626">Probe output/μm</text>
<rect x="457.5" y="26.5" width="67.1" height="66.7" fill="#fff" stroke="#a4a4a4" stroke-width="1.3"/>
<path d="M461.3 37.4H477.9" stroke="#4fb6d6" stroke-width="1.3"/>
<circle cx="469.7" cy="59.8" r="2.05" stroke="#e8606e" stroke-width="0.75" fill="none"/>
<path d="M467.5 82H471.9" stroke="#707070" stroke-width="0.65" fill="none"/><path d="M469.7 81.9V84.4" stroke="#777" stroke-width="0.7" fill="none"/><path d="M468.4 81.9a1.3 1.3 0 1 0 2.6 0a1.3 1.3 0 1 0 -2.6 0" fill="#1a1a1a"/>
<g font-size="17.0" fill="#000">
<text transform="translate(479.9 43.9) scale(1 1.045)">f(x)</text>
<text transform="translate(479.9 66.3) scale(1 1.045)">m1(x)</text>
<text transform="translate(479.9 88.4) scale(1 1.045)">m2(x)</text>
</g>
<rect x="72.4" y="204.3" width="73.5" height="68" fill="#fff" stroke="#a4a4a4" stroke-width="1.3"/>
<path d="M76.2 216.3H92" stroke="#4fb6d6" stroke-width="1.3"/>
<circle cx="83.9" cy="238.5" r="2.05" stroke="#e8606e" stroke-width="0.75" fill="none"/>
<path d="M81.7 260.6H86.1" stroke="#707070" stroke-width="0.65" fill="none"/><path d="M83.9 260.5V263" stroke="#777" stroke-width="0.7" fill="none"/><path d="M82.6 260.5a1.3 1.3 0 1 0 2.6 0a1.3 1.3 0 1 0 -2.6 0" fill="#1a1a1a"/>
<g font-size="17.0" fill="#000">
<text transform="translate(94.1 222.8) scale(1 1.045)">-g(x)</text>
<text transform="translate(94.1 245) scale(1 1.045)">m3(x)</text>
<text transform="translate(94.1 267) scale(1 1.045)">m4r(x)</text>
</g>
<text x="298.6" y="370" text-anchor="middle" font-size="20.8" fill="#262626">Measurement position/mm</text>
</svg>
</body></html>
